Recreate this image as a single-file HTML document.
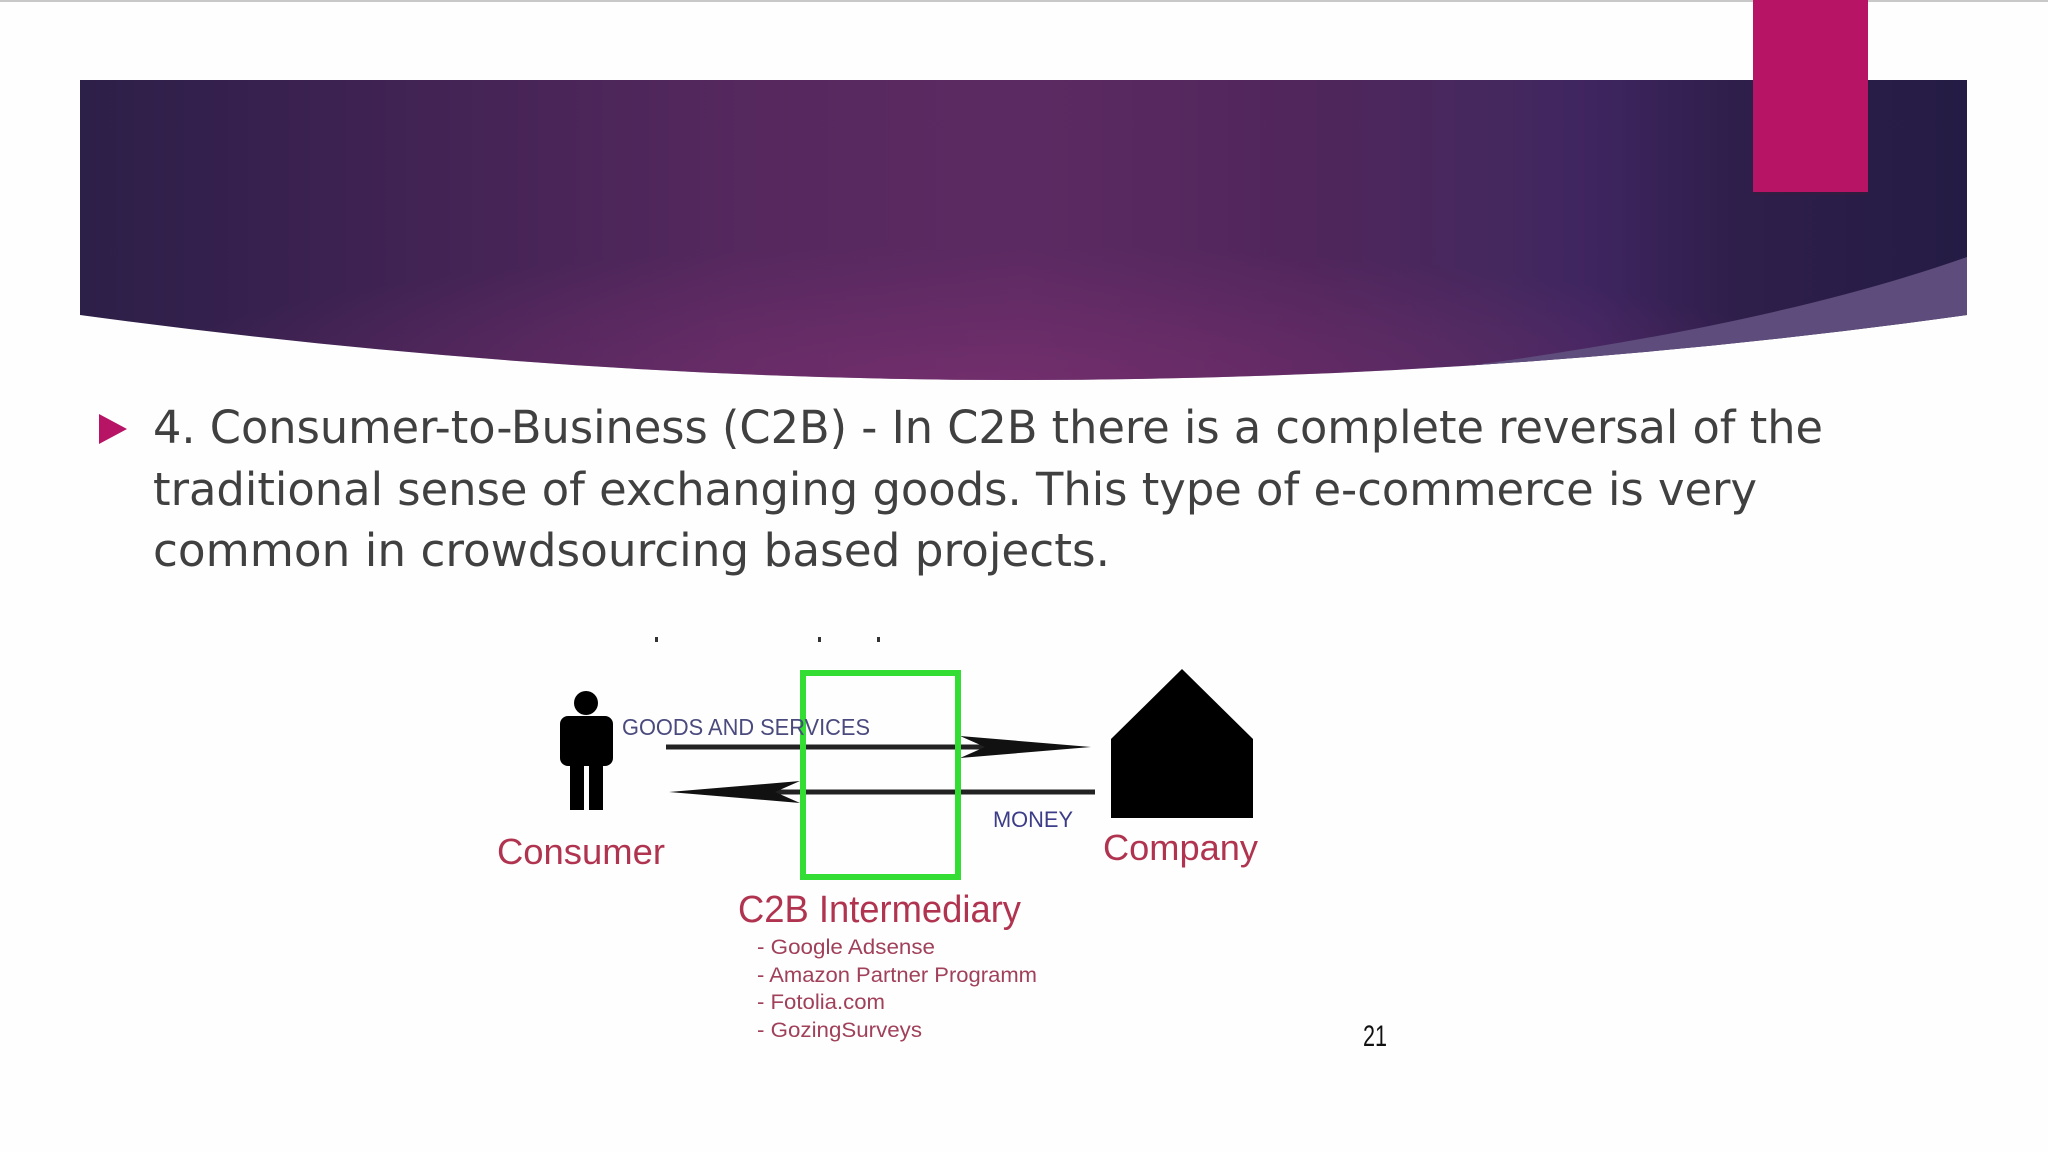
<!DOCTYPE html>
<html><head><meta charset="utf-8"><style>
html,body{margin:0;padding:0;background:#fff;}
svg{display:block;}
</style></head><body>
<svg width="2048" height="1152" viewBox="0 0 2048 1152" xmlns="http://www.w3.org/2000/svg">
<defs>
<linearGradient id="hg" x1="0" y1="0" x2="1" y2="0">
<stop offset="0" stop-color="#2c1f48"/>
<stop offset="0.15" stop-color="#3e2252"/>
<stop offset="0.35" stop-color="#55285e"/>
<stop offset="0.5" stop-color="#5c2a62"/>
<stop offset="0.65" stop-color="#50265c"/>
<stop offset="0.75" stop-color="#45285e"/>
<stop offset="0.8" stop-color="#3f2560"/>
<stop offset="0.88" stop-color="#2e1e4a"/>
<stop offset="1" stop-color="#241c44"/>
</linearGradient>
<radialGradient id="rg" cx="0.48" cy="1.0" r="0.45">
<stop offset="0" stop-color="#7a3070" stop-opacity="0.7"/>
<stop offset="1" stop-color="#7a3070" stop-opacity="0"/>
</radialGradient>
<clipPath id="bc"><path d="M80 80 H1967 V315 Q1500 380 1020 380 Q560 380 80 315 Z"/></clipPath>
</defs>
<rect width="2048" height="1152" fill="#fefefe"/>
<line x1="0" y1="1" x2="2048" y2="1" stroke="#c8c8c8" stroke-width="2"/>
<g clip-path="url(#bc)">
<rect x="80" y="80" width="1887" height="300" fill="url(#hg)"/>
<rect x="80" y="80" width="1887" height="300" fill="url(#rg)"/>
<path d="M1420 372 Q1760 330 1967 257 V400 H1420 Z" fill="#5e4c7c"/>
</g>
<rect x="1753" y="0" width="115" height="192" fill="#b71466"/>
<rect x="1753" y="192" width="115" height="3" fill="#3a1c3a" opacity="0.5"/>
<polygon points="99,414 127,429 99,444" fill="#b71466"/>
<g font-family="'DejaVu Sans','Liberation Sans',sans-serif" font-size="45" fill="#404040">
<text x="153" y="443" textLength="1670" lengthAdjust="spacingAndGlyphs">4. Consumer-to-Business (C2B) - In C2B there is a complete reversal of the</text>
<text x="153" y="505" textLength="1604" lengthAdjust="spacingAndGlyphs">traditional sense of exchanging goods. This type of e-commerce is very</text>
<text x="153" y="566" textLength="957" lengthAdjust="spacingAndGlyphs">common in crowdsourcing based projects.</text>
</g>
<g fill="#333"><rect x="655" y="637" width="3" height="5"/><rect x="818" y="637" width="3" height="5"/><rect x="877" y="637" width="3" height="5"/></g>
<g fill="#000">
<circle cx="586" cy="703" r="12"/>
<rect x="560" y="716" width="53" height="50" rx="8"/>
<rect x="570" y="750" width="14" height="60"/>
<rect x="589" y="750" width="14" height="60"/>
</g>
<line x1="666" y1="747" x2="1040" y2="747" stroke="#222" stroke-width="5"/>
<polygon points="960,736 1091,747 960,758 985,747" fill="#111"/>
<line x1="1095" y1="792" x2="720" y2="792" stroke="#222" stroke-width="5"/>
<polygon points="800,781 669,792 800,803 775,792" fill="#111"/>
<rect x="803" y="673" width="155" height="204" fill="none" stroke="#33dd33" stroke-width="6"/>
<polygon points="1182,669 1253,739 1253,818 1111,818 1111,739" fill="#000"/>
<g font-family="'Liberation Sans',sans-serif">
<text x="622" y="735" font-size="23" fill="#4a4a7e" textLength="248" lengthAdjust="spacingAndGlyphs">GOODS AND SERVICES</text>
<text x="993" y="827" font-size="22" fill="#3c3c88" textLength="80" lengthAdjust="spacingAndGlyphs">MONEY</text>
<text x="497" y="864" font-size="36" fill="#b0344f" textLength="168" lengthAdjust="spacingAndGlyphs">Consumer</text>
<text x="1103" y="860" font-size="36" fill="#b0344f" textLength="155" lengthAdjust="spacingAndGlyphs">Company</text>
<text x="738" y="922" font-size="38" fill="#b0344f" textLength="283" lengthAdjust="spacingAndGlyphs">C2B Intermediary</text>
<g font-size="21" fill="#a0405a">
<text x="757" y="954" textLength="178" lengthAdjust="spacingAndGlyphs">- Google Adsense</text>
<text x="757" y="982" textLength="280" lengthAdjust="spacingAndGlyphs">- Amazon Partner Programm</text>
<text x="757" y="1009" textLength="128" lengthAdjust="spacingAndGlyphs">- Fotolia.com</text>
<text x="757" y="1037" textLength="165" lengthAdjust="spacingAndGlyphs">- GozingSurveys</text>
</g>
<text x="1363" y="1046" font-size="30" fill="#111" textLength="24" lengthAdjust="spacingAndGlyphs">21</text>
</g>
</svg>
</body></html>
